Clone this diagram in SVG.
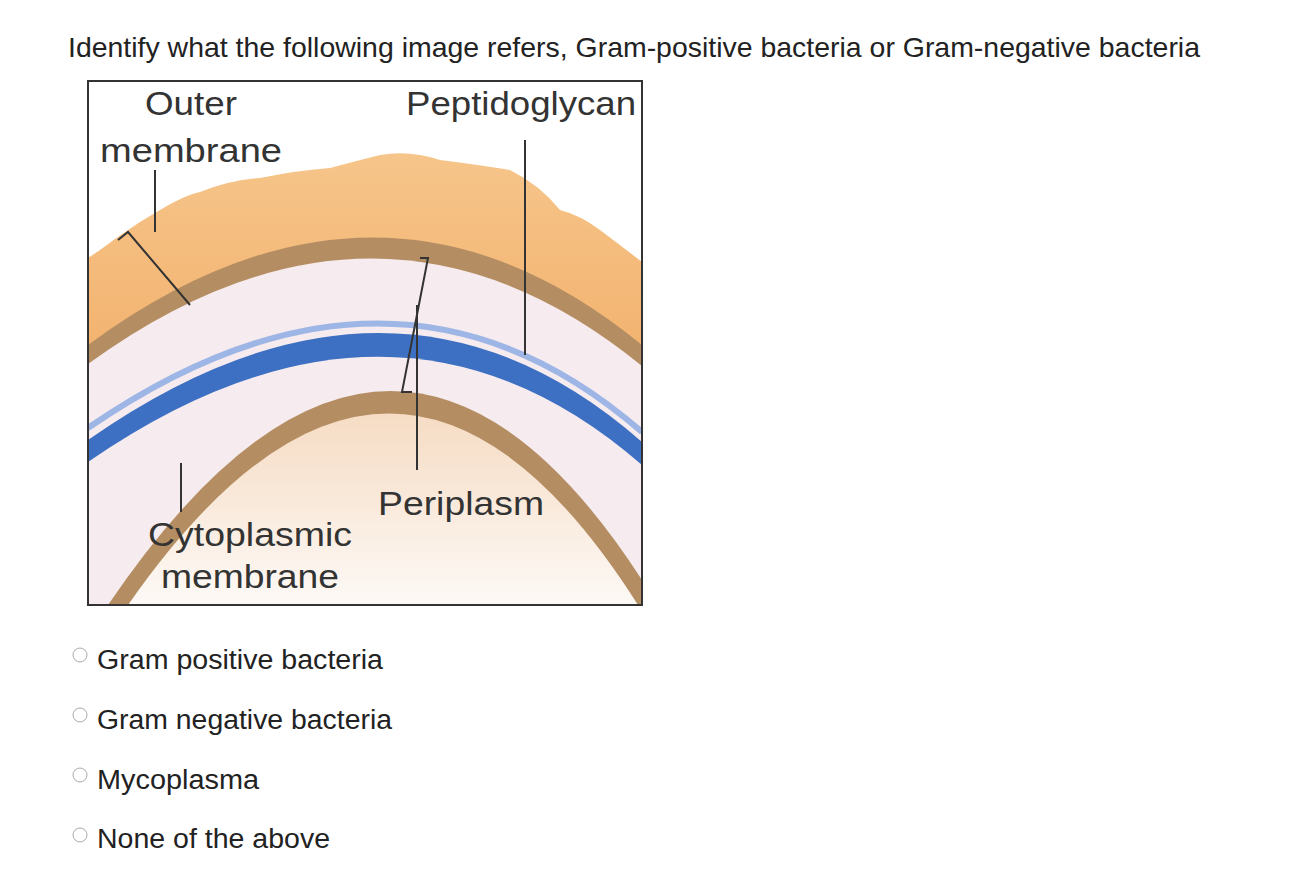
<svg xmlns="http://www.w3.org/2000/svg" width="1306" height="872" viewBox="0 0 1306 872">
<style>
.t{font-family:"Liberation Sans",Arial,sans-serif;fill:#222}
.q{font-size:27px}
.lb{font-size:34px;fill:#333}
.ln{stroke:#333;stroke-width:2;fill:none}
.rad{fill:#fff;stroke:#aaa;stroke-width:1}
</style>
<defs>
<linearGradient id="org" x1="0" y1="0" x2="0" y2="1"><stop offset="0" stop-color="#f6c58a"/><stop offset="1" stop-color="#ee9a4c"/></linearGradient>
<linearGradient id="cyt" x1="0" y1="0" x2="0" y2="1"><stop offset="0" stop-color="#f6dcc4"/><stop offset="1" stop-color="#fdf9f6"/></linearGradient>
<clipPath id="box"><rect x="88" y="81" width="554" height="524"/></clipPath>
</defs>
<rect width="1306" height="872" fill="#fff"/>
<text class="t" x="68" y="57" font-size="28" textLength="1132" lengthAdjust="spacingAndGlyphs">Identify what the following image refers, Gram-positive bacteria or  Gram-negative bacteria</text>
<g id="figure" clip-path="url(#box)">
<rect x="88" y="81" width="554" height="524" fill="#fff"/>
<path d="M88 258 L100 250 Q120 235 140 222 L160 210 Q185 195 200 192 Q230 180 260 178 Q300 170 330 168 Q360 160 380 155 Q410 150 440 160 Q480 165 510 170 Q540 185 560 210 Q580 215 600 230 Q620 245 642 262 L642 620 L88 620 Z" fill="url(#org)"/>
<path d="M88 345 Q380 130 642 345 L642 620 L88 620 Z" fill="#b48e62"/>
<path d="M88 364 Q380 152 642 366 L642 620 L88 620 Z" fill="#f6ebee"/>
<path d="M88 440 Q395 225 642 442 L642 620 L88 620 Z" fill="#3d70c2"/>
<path d="M88 428 Q395 217 642 432" fill="none" stroke="#9db6e6" stroke-width="6"/>
<path d="M88 462 Q395 250 642 465 L642 620 L88 620 Z" fill="#f6ebee"/>
<path d="M108 605 Q390 190 642 580 L642 620 L108 620 Z" fill="#b48e62"/>
<path d="M128 605 Q395 222 638 605 Z" fill="url(#cyt)"/>
</g>
<rect x="88" y="81" width="554" height="524" fill="none" stroke="#333" stroke-width="2"/>
<g id="labels">
<path class="ln" d="M155 170 L155 232 M118 240 L128 232 L190 305"/>
<path class="ln" d="M525 140 L525 355"/>
<path class="ln" d="M420 258 L428 258 L402 392 L412 392 M417 305 L417 470"/>
<path class="ln" d="M181 463 L181 512"/>
<text class="t lb" x="145" y="115" textLength="92" lengthAdjust="spacingAndGlyphs">Outer</text>
<text class="t lb" x="100" y="162" textLength="182" lengthAdjust="spacingAndGlyphs">membrane</text>
<text class="t lb" x="406" y="115" textLength="230" lengthAdjust="spacingAndGlyphs">Peptidoglycan</text>
<text class="t lb" x="378" y="515" textLength="166" lengthAdjust="spacingAndGlyphs">Periplasm</text>
<text class="t lb" x="148" y="546" textLength="204" lengthAdjust="spacingAndGlyphs">Cytoplasmic</text>
<text class="t lb" x="161" y="588" textLength="178" lengthAdjust="spacingAndGlyphs">membrane</text>
</g>
<g id="options">
<circle class="rad" cx="80" cy="655" r="7"/><text class="t q" x="97" y="669" textLength="286" lengthAdjust="spacingAndGlyphs">Gram positive bacteria</text>
<circle class="rad" cx="80" cy="715" r="7"/><text class="t q" x="97" y="729" textLength="295" lengthAdjust="spacingAndGlyphs">Gram negative bacteria</text>
<circle class="rad" cx="80" cy="775" r="7"/><text class="t q" x="97" y="789" textLength="162" lengthAdjust="spacingAndGlyphs">Mycoplasma</text>
<circle class="rad" cx="80" cy="835" r="7"/><text class="t q" x="97" y="848" textLength="233" lengthAdjust="spacingAndGlyphs">None of the above</text>
</g>
</svg>
